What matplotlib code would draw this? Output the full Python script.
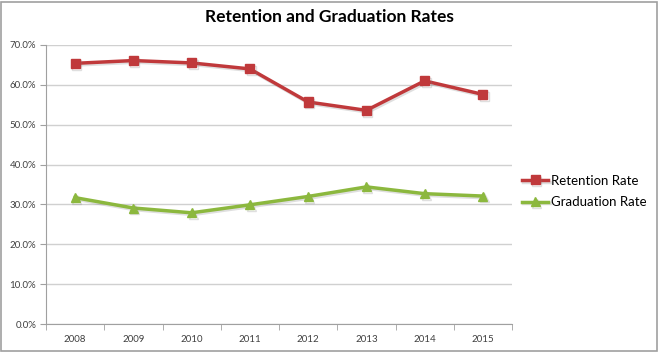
import matplotlib
matplotlib.use("Agg")
import matplotlib.pyplot as plt
import matplotlib.patheffects as pe
from matplotlib.ticker import FuncFormatter, FixedLocator
import numpy as np

years = ["2008", "2009", "2010", "2011", "2012", "2013", "2014", "2015"]
retention = [65.4, 66.1, 65.5, 64.0, 55.7, 53.6, 61.0, 57.6]
graduation = [31.7, 29.1, 27.9, 29.9, 32.0, 34.4, 32.7, 32.1]
y_ticks = [0, 10, 20, 30, 40, 50, 60, 70]

plt.rcParams['font.family'] = ['Lato', 'DejaVu Sans']

fig = plt.figure(figsize=(6.6, 3.53), dpi=100)
ax = fig.add_axes([46/660, 29/353, (512-46)/660, (324-45)/353])

x = np.arange(len(years))
shadow = [pe.SimpleLineShadow(offset=(1, -1.2), shadow_color='gray', alpha=0.25), pe.Normal()]
ax.plot(x, retention, color='#c0393b', lw=2.5, marker='s', ms=6.5, label='Retention Rate',
        path_effects=shadow, zorder=3)
ax.plot(x, graduation, color='#8cb83e', lw=2.5, marker='^', ms=6.5, label='Graduation Rate',
        path_effects=shadow, zorder=3)

ax.set_xlim(-0.5, len(years) - 0.5)
ax.set_ylim(0, 70)
ax.set_yticks(y_ticks)
ax.yaxis.set_major_formatter(FuncFormatter(lambda v, p: f"{v:.1f}%"))
ax.set_xticks(x)
ax.set_xticklabels(years)
ax.xaxis.set_minor_locator(FixedLocator(np.arange(-0.5, len(years), 1.0)))
ax.tick_params(axis='x', which='major', length=0, labelsize=7, colors='#404040', pad=8)
ax.tick_params(axis='x', which='minor', length=4, color='#a0a0a0')
ax.tick_params(axis='y', length=4, color='#a0a0a0', labelsize=7, labelcolor='#404040', pad=3)
ax.grid(axis='y', color='#d0d0d0', lw=1)
ax.set_axisbelow(True)
for s in ['top', 'right']:
    ax.spines[s].set_visible(False)
ax.spines['left'].set_color('#a0a0a0')
ax.spines['bottom'].set_color('#a0a0a0')

fig.text(329/660, 1 - 17/353, "Retention and Graduation Rates", ha='center', va='center',
         fontsize=12.5, fontweight='bold', color='black')

ax.legend(loc='center left', bbox_to_anchor=(1.01, 0.475), frameon=False, fontsize=9.5,
          handlelength=2.0, handletextpad=0.2, labelspacing=0.75, borderaxespad=0)

# outer frame
fig.patches.append(plt.Rectangle((0.002, 0.005), 0.994, 0.99, transform=fig.transFigure,
                                 fill=False, edgecolor='#a0a0a0', lw=1.2))

fig.savefig("out.png", dpi=100)
